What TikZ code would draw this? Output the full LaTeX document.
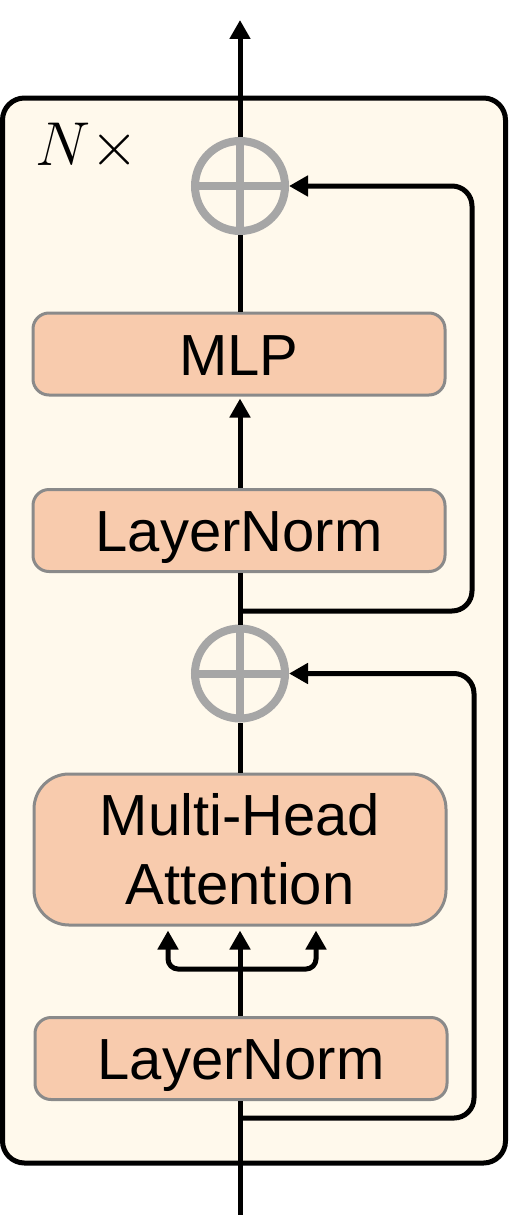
\RequirePackage{fix-cm}
\documentclass[tikz,border=0pt]{standalone}
\usepackage{fontspec}
\setmainfont{Liberation Sans}
\usepackage{tikz}
\usetikzlibrary{arrows.meta}
\definecolor{blockfill}{HTML}{F8CBAD}
\definecolor{blockline}{HTML}{8A8A8A}
\definecolor{framefill}{HTML}{FFF9EC}
\definecolor{plusgray}{HTML}{A6A6A6}
\tikzset{blk/.style={rectangle,draw=blockline,fill=blockfill,line width=3pt,rounded corners=16pt,minimum width=412pt,minimum height=82pt,inner sep=0pt,text height=42pt,text depth=0pt,font=\fontsize{58}{69}\selectfont},
  plus/.style={circle,draw=plusgray,line width=8pt,minimum size=90pt,inner sep=0pt,
    path picture={\draw[plusgray,line width=8pt] (path picture bounding box.north) -- (path picture bounding box.south) (path picture bounding box.west) -- (path picture bounding box.east);}}}

\begin{document}
\begin{tikzpicture}[x=1pt,y=-1pt,>={Triangle[width=20pt,length=19pt]},line width=5pt]
        \useasboundingbox (0,0) rectangle (509,1215);
        \draw[fill=framefill,rounded corners=22pt] (2.5,98) rectangle (505.5,1163);
        \node (rep) at (87,147) {\fontsize{62}{70}\selectfont $N\times$};

        \node[plus] (p1) at (240,186) {};
        \node[blk] (mlp) at (239,354) {MLP};
        \node[blk] (ln1) at (239,530.5) {LayerNorm};
        \node[plus] (p2) at (240,673.5) {};
        \node[blk,rounded corners=35pt,minimum height=151pt,text height=,text depth=,align=center] (mha) at (240,849.5) {Multi-Head\\Attention};
        \node[blk] (ln2) at (241,1058.5) {LayerNorm};

        \coordinate (in) at (240,1215);
        \coordinate (out) at (240,20);
        \coordinate (fork) at (240,969);
        \coordinate (res1) at (240,611);
        \coordinate (res1r) at (472,611);
        \coordinate (res2) at (240,1118);
        \coordinate (res2r) at (474,1118);

        \draw (in) -- (in |- ln2.south);
        \draw (ln2.north -| fork) -- (fork);
        \draw [->] (fork) -- ([yshift=-4pt]mha.south -| fork);
        \draw [->,rounded corners=10pt] (fork) -| ([xshift=-72pt,yshift=-4pt]mha.south);
        \draw [->,rounded corners=10pt] (fork) -| ([xshift=76pt,yshift=-4pt]mha.south);
        \draw [->,rounded corners=20pt] (res2) -- (res2r) |- (p2.east);
        \draw (mha.north -| p2) -- (p2.south);
        \draw (p2.north) -- (ln1.south -| p2);
        \draw [->,rounded corners=20pt] (res1) -- (res1r) |- (p1.east);
        \draw [->] (ln1.north -| p1) -- ([yshift=-2pt]mlp.south -| p1);
        \draw (mlp.north -| p1) -- (p1.south);
        \draw [->] (p1.north) -- (out);
    \end{tikzpicture}
\end{document}
